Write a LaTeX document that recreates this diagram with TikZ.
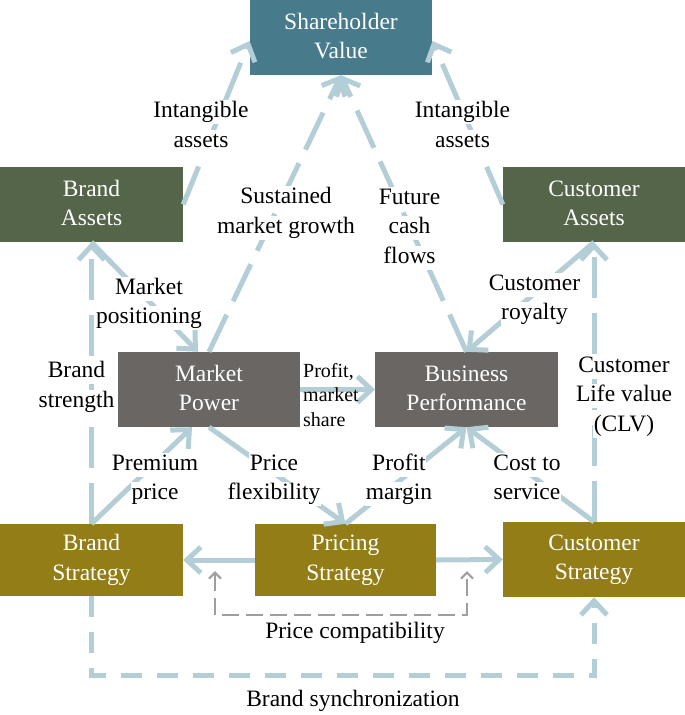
\documentclass[tikz,border=0pt]{standalone}
\usepackage{fontspec}
\setmainfont{Liberation Serif}
\usetikzlibrary{arrows.meta,calc}
\definecolor{cteal}{HTML}{477A8A}
\definecolor{cgreen}{HTML}{55654A}
\definecolor{cgrey}{HTML}{6A6663}
\definecolor{colive}{HTML}{927D16}
\definecolor{cline}{HTML}{B3CED6}
\definecolor{cgline}{HTML}{9E9EA2}
\newcommand\myboxfont{\fontsize{23.5}{29.5}\selectfont}
\newcommand\mylblfont{\fontsize{23.5}{29.5}\selectfont}
\newcommand\mysmallfont{\fontsize{20}{24.5}\selectfont}
\newcommand\wbg[1]{\colorbox{white}{\rule[-6pt]{0pt}{23pt}#1}}
\begin{document}
\begin{tikzpicture}[x=1pt,y=-1pt,
  box/.style={minimum width=182.5pt,minimum height=75pt,inner sep=0pt,text=white,align=center,font=\myboxfont,
    execute at begin node={\rule[-3pt]{0pt}{25pt}},execute at end node={\rule[-3pt]{0pt}{25pt}}},
  lbl/.style={inner sep=0pt,align=center,font=\mylblfont,execute at begin node={\setlength{\fboxsep}{0.5pt}}},
  small/.style={inner sep=0pt,align=left,font=\mysmallfont,execute at begin node=\strut,execute at end node=\strut},
  conn/.style={draw=cline,line width=5pt},
  tip/.style={-{Straight Barb[length=14pt,width=26pt]}},
  bdash/.style={dash pattern=on 41pt off 15pt},
  sdash/.style={dash pattern=on 21pt off 15pt},
  gconn/.style={draw=cgline,line width=2.2pt,dash pattern=on 17pt off 7pt,
    {Straight Barb[length=6pt,width=12pt]}-{Straight Barb[length=6pt,width=12pt]}}]
\useasboundingbox (0,0) rectangle (685,715);

% boxes
\node[box,fill=cteal] (SV) at (341,37.5) {Shareholder\\Value};
\node[box,fill=cgreen,minimum width=183pt] (BA) at (91.5,204.5) {Brand\\Assets};
\node[box,fill=cgreen,minimum width=182pt] (CA) at (594,204.5) {Customer\\Assets};
\node[box,fill=cgrey] (MP) at (209,389.5) {Market\\Power};
\node[box,fill=cgrey] (BP) at (466.5,389.5) {Business\\Performance};
\node[box,fill=colive,minimum height=72pt,minimum width=183pt] (BS) at (91.5,560) {Brand\\Strategy};
\node[box,fill=colive,minimum height=72pt,minimum width=181pt] (PS) at (345.5,560) {Pricing\\Strategy};
\node[box,fill=colive,minimum width=182pt] (CS) at (594,559.5) {Customer\\Strategy};

% connectors
\draw[conn,tip,bdash] (BA.east) -- ([yshift=-3.5pt]SV.west);
\draw[conn,tip,bdash] (CA.west) -- ([yshift=-3.5pt]SV.east);
\draw[conn,tip,bdash] (MP.north) -- (SV.south);
\draw[conn,tip,bdash] (BP.north) -- (SV.south);
\draw[conn,tip] (CA.south) -- (BP.north);
\draw[conn,tip] (BA.south) -- ([xshift=-11pt]MP.north);
\draw[conn,tip,bdash] (BS.north) -- (BA.south);
\draw[conn,tip] (BS.north) -- ([xshift=-17pt]MP.south);
\draw[conn,tip] (MP.south) -- (PS.north);
\draw[conn,tip] (PS.north) -- (BP.south);
\draw[conn,tip] (CS.north) -- (BP.south);
\draw[conn,tip,bdash] (CS.north) -- (CA.south);
\draw[conn,tip] (MP.east) -- (BP.west);
\draw[conn,tip] (PS.west) -- (BS.east);
\draw[conn,tip] (PS.east) -- (CS.west);
\coordinate (syncY) at (342,675);
\draw[conn,tip,sdash] (BS.south) |- (syncY) -| (CS.south);
\coordinate (pcL) at (215,571);
\coordinate (pcR) at (467,571);
\coordinate (pcB) at (341,615);
\draw[gconn] (pcL) |- (pcB) -| (pcR);

% labels
\node[lbl] (lIA1) at (201,127) {\wbg{Intangible}\\\wbg{assets}};
\node[lbl] (lIA2) at (462.5,127) {\wbg{Intangible}\\\wbg{assets}};
\node[lbl] (lSMG) at (286,213) {\wbg{Sustained}\\\wbg{market growth}};
\node[lbl] (lFCF) at (409.5,228) {\wbg{Future}\\\wbg{cash}\\\wbg{flows}};
\node[lbl] (lMPos) at (149,303.3) {\wbg{Market}\\\wbg{positioning}};
\node[lbl] (lCR) at (534.5,299.3) {\wbg{Customer}\\\wbg{royalty}};
\node[lbl] (lBStr) at (76.5,387) {\wbg{Brand}\\\wbg{strength}};
\node[lbl] (lCLV) at (624,396) {\wbg{Customer}\\\wbg{Life value}\\\wbg{(CLV)}};
\node[lbl] (lPP) at (155,479.3) {\wbg{Premium}\\\wbg{price}};
\node[lbl] (lPF) at (274,479.3) {\wbg{Price}\\\wbg{flexibility}};
\node[lbl] (lPM) at (399,479.3) {\wbg{Profit}\\\wbg{margin}};
\node[lbl] (lCS) at (527,479.3) {\wbg{Cost to}\\\wbg{service}};
\node[small,anchor=west] (lPMS) at (303,398.6) {Profit,\\market\\share};
\node[lbl] (lPC) at (355,632.5) {\wbg{Price compatibility}};
\node[lbl] (lBSync) at (353,700.5) {\wbg{Brand synchronization}};
\end{tikzpicture}
\end{document}
